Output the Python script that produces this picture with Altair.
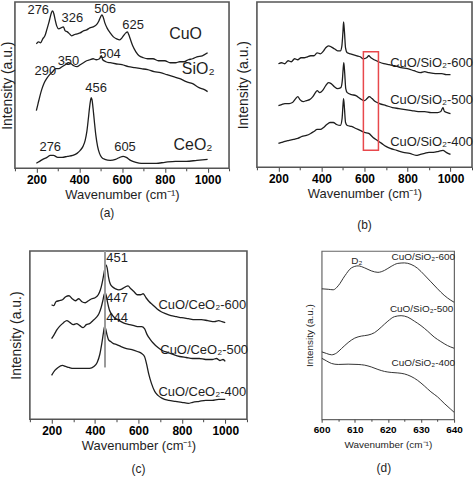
import altair as alt
import pandas as pd

FONT = "Liberation Sans"
INK = "#1e1e1e"

# ---------------- Panel (a): reference spectra ----------------
A_CUO_W = [200,210,220,230,240,250,258,265,270,276,282,288,295,305,315,326,335,345,355,365,375,390,405,420,435,450,465,480,492,500,506,512,520,530,545,560,575,590,600,610,618,625,632,640,650,665,680,700,720,745,770,800,825,850,870,890,910,930,950,975,1000]
A_CUO_I = [125,127,126,130,133,140,146,152,156,158,155,149,143,140,141,142,138,137,135,133,134,135,136,138,139,141,142,144,148,152,154,152,146,141,136,132,130,129,131,134,136,137,134,129,123,117,113,111,110,110,108,108,106,106,107,107,109,110,112,113,116]
A_SIO2_W = [200,208,216,225,235,248,262,276,290,305,320,335,350,362,375,390,405,420,435,450,465,480,495,504,510,525,545,570,600,630,660,690,720,750,780,810,840,870,900,930,960,985,1000]
A_SIO2_I = [58,65,72,79,85,90,94,97,100,100,102,104,106,105,103,102,104,106,108,109,110,109,110,113,109,107,106,105,104,102,101,100,99,97,96,94,92,90,87,85,81,79,77]
A_CEO2_W = [200,215,230,250,265,280,300,320,345,370,390,405,418,428,436,443,449,453,456,460,465,471,478,486,495,505,520,545,570,590,605,620,640,665,690,720,760,800,850,900,950,1000]
A_CEO2_I = [5,7,9,11,13,13,11,11,12,13,15,18,22,28,37,50,62,68,71,69,60,47,33,22,15,11,9,8,9,11,12,11,8,6,5,5,5,6,7,7,8,9]
A_LBL = ["276","326","506","625","CuO","290","350","504","SiO₂","456","276","605","CeO₂"]
A_LBL_W = [209,368,521,652,897,242,350,544,956,479,265,614,932]
A_LBL_I = [159,151,160,144,135,98,108,115,100,81,21,21,23]
A_LBL_SIZE = [13,13,13,13,16,13,13,13,16,13,13,13,16]

# ---------------- Panel (b): CuO/SiO2 ----------------
B600_W = [200,215,230,245,260,275,290,305,320,335,350,365,380,395,410,420,433,445,460,475,488,495,500,503,507,512,520,535,550,565,580,595,610,620,630,645,665,690,715,740,770,800,830,860,880,900,930,960,980,1000]
B600_I = [104,105,104,107,106,109,108,110,110,111,112,112,115,114,117,120,122,121,119,117,117,122,136,146,136,120,115,114,113,112,111,109,110,112,110,108,106,104,103,102,100,99,97,95,96,95,94,94,93,93]
B500_W = [200,215,230,250,265,280,290,300,315,330,345,360,372,380,392,405,420,433,445,460,475,490,497,501,504,508,513,520,540,560,580,600,612,622,635,650,670,700,730,760,790,820,850,880,910,940,955,965,972,985,1000]
B500_I = [62,63,64,64,65,69,71,68,66,67,68,71,75,77,75,77,82,85,84,81,79,80,87,99,105,95,79,75,73,72,69,67,69,71,69,66,64,62,60,59,58,57,56,56,55,55,56,60,56,55,54]
B400_W = [200,215,230,250,270,290,310,330,350,365,380,395,410,425,440,455,470,488,496,500,503,507,512,520,540,560,580,600,620,640,660,680,700,720,750,780,810,840,860,880,900,920,945,965,980,1000]
B400_I = [24,25,26,27,28,29,31,32,34,36,38,38,40,43,45,45,43,42,49,62,69,59,45,42,41,39,37,35,34,30,27,24,21,19,17,15,14,12,13,14,15,15,16,17,15,13]
B_BOX_W = [595, 665]
B_BOX_I = [17, 116]
B_LBL = ["CuO/SiO₂-600", "CuO/SiO₂-500", "CuO/SiO₂-400"]
B_LBL_W = [912, 912, 912]
B_LBL_I = [105, 68, 25]

# ---------------- Panel (c): CuO/CeO2 ----------------
C600_W = [200,210,220,235,250,265,280,295,310,325,340,355,370,385,400,415,425,433,440,446,451,456,462,470,480,495,510,525,540,552,565,580,595,610,622,635,650,665,685,705,725,750,775,800,830,860,890,920,950,970,985,1000]
C600_I = [115,114,118,119,120,123,124,121,119,121,118,117,119,121,122,125,130,137,145,152,155,152,143,136,133,131,130,131,133,134,131,128,125,125,126,122,118,115,111,108,106,104,103,102,101,100,100,99,98,99,98,97]
C500_W = [200,212,225,240,255,270,285,300,315,330,345,360,375,390,405,418,428,436,442,447,452,458,466,475,490,505,520,540,560,580,600,615,628,640,655,670,690,710,735,760,790,820,850,880,910,940,960,975,990,1000]
C500_I = [81,85,90,94,97,99,97,95,96,94,92,95,96,99,102,106,112,119,125,127,124,117,110,106,102,100,98,96,95,94,93,93,91,85,80,76,72,69,67,65,63,62,61,61,60,60,61,59,60,58]
C400_W = [200,215,230,250,265,280,300,325,350,375,395,410,422,432,439,444,449,455,462,472,485,500,520,545,570,595,615,628,638,648,660,675,690,710,740,770,800,830,850,880,910,940,970,1000]
C400_I = [44,49,52,54,53,52,51,51,51,51,53,57,65,77,87,93,91,85,80,78,76,75,73,71,70,68,66,63,55,45,36,28,24,21,19,18,17,16,17,18,19,19,20,20]
C_LINE_W = [446]
C_LINE_I = [52, 169]
C_PEAK_LBL = ["451", "447", "444"]
C_PEAK_W = [452, 452, 452]
C_PEAK_I = [162, 122, 102]
C_LBL = ["CuO/CeO₂-600", "CuO/CeO₂-500", "CuO/CeO₂-400"]
C_LBL_W = [894, 903, 894]
C_LBL_I = [115, 70, 27]

# ---------------- Panel (d): CuO/SiO2 600-640 ----------------
D600_W = [600,602,603.5,605,607,609,611,613,615,617,619,621,623,625,627,629,631,633,635,637,639,640]
D600_I = [131,130.5,130,134,144,152,154,152,149,147.5,149.5,153.5,156.5,157,155.5,151.5,145,138,131,124.5,119.5,117.5]
D500_W = [600,601.5,603,604.5,606,608,610,612,614,616,618,620,622,624,626,628,630,632,634,636,638,640]
D500_I = [67.7,66,64.7,66.5,71,77,81.5,83.5,84.5,87,92.5,98.5,103,104,102.5,98.5,94,88.5,82.5,78,74,71.3]
D400_W = [600,601.5,603,605,608,611,613,615,617,619,621,623,625,627,629,631,633,635,637,639,640]
D400_I = [61.3,58.5,56,55,55.3,55,54.3,52.5,50,48,47,46.5,45.5,43,39,33.5,27.5,22.5,16,10,7]
D_LBL = ["D₂", "CuO/SiO₂-600", "CuO/SiO₂-500", "CuO/SiO₂-400"]
D_LBL_W = [610.6, 630.7, 630.2, 630.7]
D_LBL_I = [159.3, 162.7, 110.3, 56]

XTICKS_WIDE = [100,200,300,400,500,600,700,800,900,1000,1100]
XTICKS_D = [600,605,610,615,620,625,630,635,640]
X_TITLE = "Wavenumber (cm⁻¹)"
Y_TITLE = "Intensity (a.u.)"


def long_df(series):
    rows = []
    for name, ws, vs in series:
        assert len(ws) == len(vs), name
        rows += [{"s": name, "w": w, "v": v} for w, v in zip(ws, vs)]
    return pd.DataFrame(rows)


def lbl_df(labels, ws, vs, size):
    assert len(labels) == len(ws) == len(vs)
    sizes = size if isinstance(size, list) else [size] * len(labels)
    return pd.DataFrame({"label": labels, "w": ws, "v": vs, "size": sizes})


def encodings(xdom, ymax, xvals, label_test, major_test, tick_fs, title_fs,
              major_len, minor_len, xpad, ypad, ytitle_fs):
    xaxis = alt.Axis(
        values=xvals, format="d", labelExpr=f"({label_test}) ? datum.label : ''",
        tickSize={"condition": {"test": major_test, "value": major_len}, "value": minor_len},
        tickColor="#444", tickWidth=1, domain=False, grid=False,
        labelFont=FONT, labelFontWeight="bold", labelFontSize=tick_fs, labelColor="#000",
        labelPadding=2, labelOverlap=False, labelFlush=False,
        title=X_TITLE, titleFont=FONT, titleFontSize=title_fs, titleFontWeight="normal",
        titleColor=INK, titlePadding=xpad)
    yaxis = alt.Axis(
        labels=False, ticks=False, domain=False, grid=False,
        title=Y_TITLE, titleFont=FONT, titleFontSize=ytitle_fs, titleFontWeight="normal",
        titleColor=INK, titlePadding=ypad)
    xs = alt.Scale(domain=xdom, nice=False, zero=False)
    ys = alt.Scale(domain=[0, ymax], nice=False, zero=False)
    return xaxis, yaxis, xs, ys


def panel(lines, texts, xdom, ymax, width, height, xvals, label_test, major_test,
          tick_fs, title_fs, major_len, minor_len, xpad, ypad, ytitle_fs,
          line_color, line_width, frame_color, frame_width,
          ptitle, pdx, poffset, extra=None):
    xaxis, yaxis, xs, ys = encodings(xdom, ymax, xvals, label_test, major_test, tick_fs,
                                     title_fs, major_len, minor_len, xpad, ypad, ytitle_fs)
    X = alt.X("w:Q", scale=xs, axis=xaxis)
    Y = alt.Y("v:Q", scale=ys, axis=yaxis)
    layers = [
        alt.Chart(lines).mark_line(color=line_color, strokeWidth=line_width,
                                   interpolate="monotone", clip=True)
        .encode(x=X, y=Y, detail="s:N", order="w:Q")
    ]
    for tdf, align in texts:
        layers.append(
            alt.Chart(tdf).mark_text(font=FONT, color=INK, align=align, baseline="middle")
            .encode(x=X, y=Y, text="label:N", size=alt.Size("size:Q", scale=None, legend=None))
        )
    if extra:
        layers += [e(xs, ys, xaxis, yaxis) for e in extra]
    return alt.layer(*layers).properties(
        width=width, height=height,
        view=alt.ViewBackground(stroke=frame_color, strokeWidth=frame_width),
        title=alt.TitleParams(text=ptitle, orient="bottom", anchor="middle", font=FONT,
                              fontSize=12, fontWeight="normal", color=INK,
                              offset=poffset, dx=pdx),
    )


WIDE_LABEL = "datum.value % 200 === 0 && datum.value >= 200 && datum.value <= 1000"
WIDE_MAJOR = "datum.value % 200 === 0"

# (a)
pa = panel(
    long_df([("CuO", A_CUO_W, A_CUO_I), ("SiO2", A_SIO2_W, A_SIO2_I), ("CeO2", A_CEO2_W, A_CEO2_I)]),
    [(lbl_df(A_LBL, A_LBL_W, A_LBL_I, A_LBL_SIZE), "center")],
    [100, 1100], 167, 215, 167, XTICKS_WIDE, WIDE_LABEL, WIDE_MAJOR,
    12, 13, 4, 2.5, 3, 0, 14, INK, 1.3, "#555", 1.6, "(a)", -15, 7)

# (b)
box_df = pd.DataFrame({"w1": [B_BOX_W[0]], "w2": [B_BOX_W[1]], "v1": [B_BOX_I[0]], "v2": [B_BOX_I[1]]})


def red_box(xs, ys, xaxis, yaxis):
    return alt.Chart(box_df).mark_rect(fill="transparent", stroke="#e8484c", strokeWidth=1.5).encode(
        x=alt.X("w1:Q", scale=xs, axis=xaxis), x2="w2:Q",
        y=alt.Y("v1:Q", scale=ys, axis=yaxis), y2="v2:Q")


pb = panel(
    long_df([("600", B600_W, B600_I), ("500", B500_W, B500_I), ("400", B400_W, B400_I)]),
    [(lbl_df(B_LBL, B_LBL_W, B_LBL_I, 13), "center")],
    [100, 1100], 166, 216, 166, XTICKS_WIDE, WIDE_LABEL, WIDE_MAJOR,
    12, 13, 4, 2.5, 3, 6, 14, INK, 1.3, "#555", 1.6, "(b)", 0, 20, extra=[red_box])

# (c)
cline_df = pd.DataFrame({"w": C_LINE_W, "v1": [C_LINE_I[0]], "v2": [C_LINE_I[1]]})


def peak_line(xs, ys, xaxis, yaxis):
    return alt.Chart(cline_df).mark_rule(color="#9a9a9a", strokeWidth=2).encode(
        x=alt.X("w:Q", scale=xs, axis=xaxis),
        y=alt.Y("v1:Q", scale=ys, axis=yaxis), y2="v2:Q")


pc = panel(
    long_df([("600", C600_W, C600_I), ("500", C500_W, C500_I), ("400", C400_W, C400_I)]),
    [(lbl_df(C_PEAK_LBL, C_PEAK_W, C_PEAK_I, 13), "left"),
     (lbl_df(C_LBL, C_LBL_W, C_LBL_I, 13), "center")],
    [100, 1100], 169, 218, 169, XTICKS_WIDE, WIDE_LABEL, WIDE_MAJOR,
    12, 13, 4, 2.5, 3, 6, 14, INK, 1.3, "#555", 1.6, "(c)", 0, 12, extra=[peak_line])

# (d)
pd_ = panel(
    long_df([("600", D600_W, D600_I), ("500", D500_W, D500_I), ("400", D400_W, D400_I)]),
    [(lbl_df(D_LBL, D_LBL_W, D_LBL_I, 10), "center")],
    [600, 640], 169, 133, 169, XTICKS_D, "datum.value % 10 === 0", "datum.value % 10 === 0",
    10, 10, 3, 2, 5, 7, 10, "#333", 1.0, "#666", 1.2, "(d)", -4, 14)

spacer = alt.Chart(pd.DataFrame({"z": [0]})).mark_point(opacity=0).properties(
    width=15, height=1, view=alt.ViewBackground(strokeOpacity=0))

top_row = alt.hconcat(pa, pb, spacing=28, bounds="flush")
bottom_row = alt.hconcat(spacer, alt.hconcat(pc, pd_, spacing=75, bounds="flush"),
                         spacing=0, bounds="flush")

chart = alt.vconcat(top_row, bottom_row, spacing=16).properties(
    padding={"left": 0, "top": 0, "right": 0, "bottom": 0},
    background="white",
).configure_view(
    stroke="#555"
).configure_axisX(
    labelFontWeight="bold", labelColor="#000"
)

chart.save("out.html", embed_options={"renderer": "svg", "actions": False})
